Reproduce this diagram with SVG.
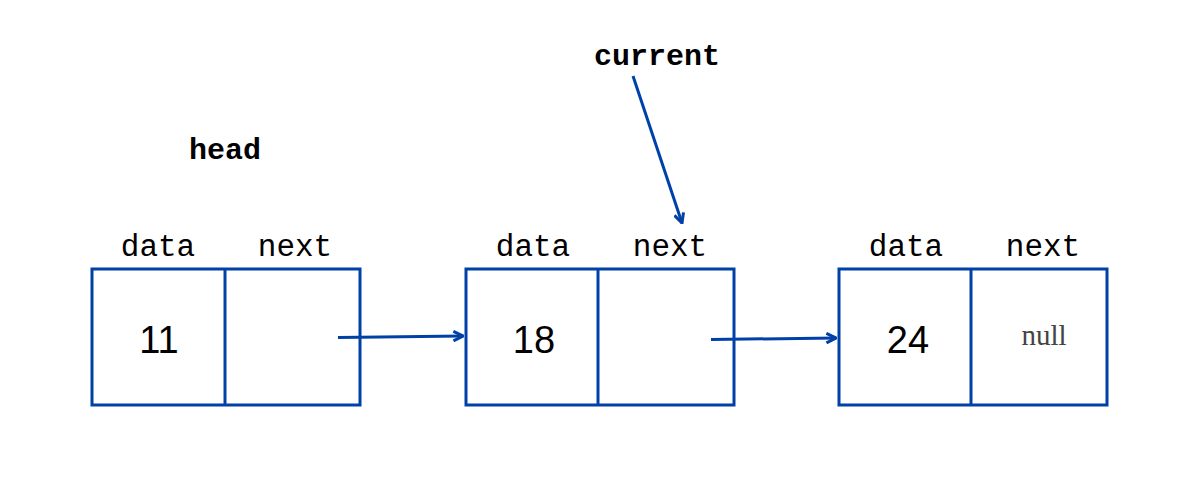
<svg xmlns="http://www.w3.org/2000/svg" width="1200" height="480" viewBox="0 0 1200 480">
<style>
.box{fill:#fff;stroke:#0041a8;stroke-width:3}
.div{stroke:#0041a8;stroke-width:3}
.lbl{font-family:"Liberation Mono",monospace;font-size:31px;fill:#000;text-anchor:middle}
.ptr{font-family:"Liberation Mono",monospace;font-size:30px;font-weight:bold;fill:#000;text-anchor:middle}
.num{font-family:"Liberation Sans",Arial,sans-serif;font-size:38px;fill:#000;text-anchor:middle}
.nul{font-family:"Liberation Serif",serif;font-size:29px;fill:#444;text-anchor:middle}
.con{stroke:#0041a8;stroke-width:3;fill:none;marker-end:url(#ah)}
</style>
<defs>
<marker id="ah" viewBox="0 0 10 10" refX="9" refY="5" markerWidth="4" markerHeight="4" orient="auto" markerUnits="strokeWidth">
<path d="M1,1 L9,5 L1,9" fill="none" stroke="#0041a8" stroke-width="2.5"/>
</marker>
</defs>
<rect width="1200" height="480" fill="#fff"/>
<g id="head"><text class="ptr" x="225" y="159">head</text></g>
<g id="current"><text class="ptr" x="657" y="65">current</text></g>
<g id="node1">
<text class="lbl" x="158" y="256">data</text>
<text class="lbl" x="295" y="256">next</text>
<rect class="box" x="92" y="269" width="268" height="136"/>
<line class="div" x1="225" y1="269" x2="225" y2="405"/>
<text class="num" x="159" y="353">11</text>
</g>
<g id="node2">
<text class="lbl" x="533" y="256">data</text>
<text class="lbl" x="670" y="256">next</text>
<rect class="box" x="466" y="269" width="268" height="136"/>
<line class="div" x1="598" y1="269" x2="598" y2="405"/>
<text class="num" x="534" y="353">18</text>
</g>
<g id="node3">
<text class="lbl" x="906" y="256">data</text>
<text class="lbl" x="1043" y="256">next</text>
<rect class="box" x="839" y="269" width="268" height="136"/>
<line class="div" x1="971" y1="269" x2="971" y2="405"/>
<text class="num" x="908" y="353">24</text>
<text class="nul" x="1044" y="345">null</text>
</g>
<g id="connectors">
<line class="con" x1="338" y1="337.5" x2="463" y2="336"/>
<line class="con" x1="711" y1="339.5" x2="836" y2="338"/>
<line class="con" x1="633" y1="76" x2="682" y2="223"/>
</g>
</svg>
